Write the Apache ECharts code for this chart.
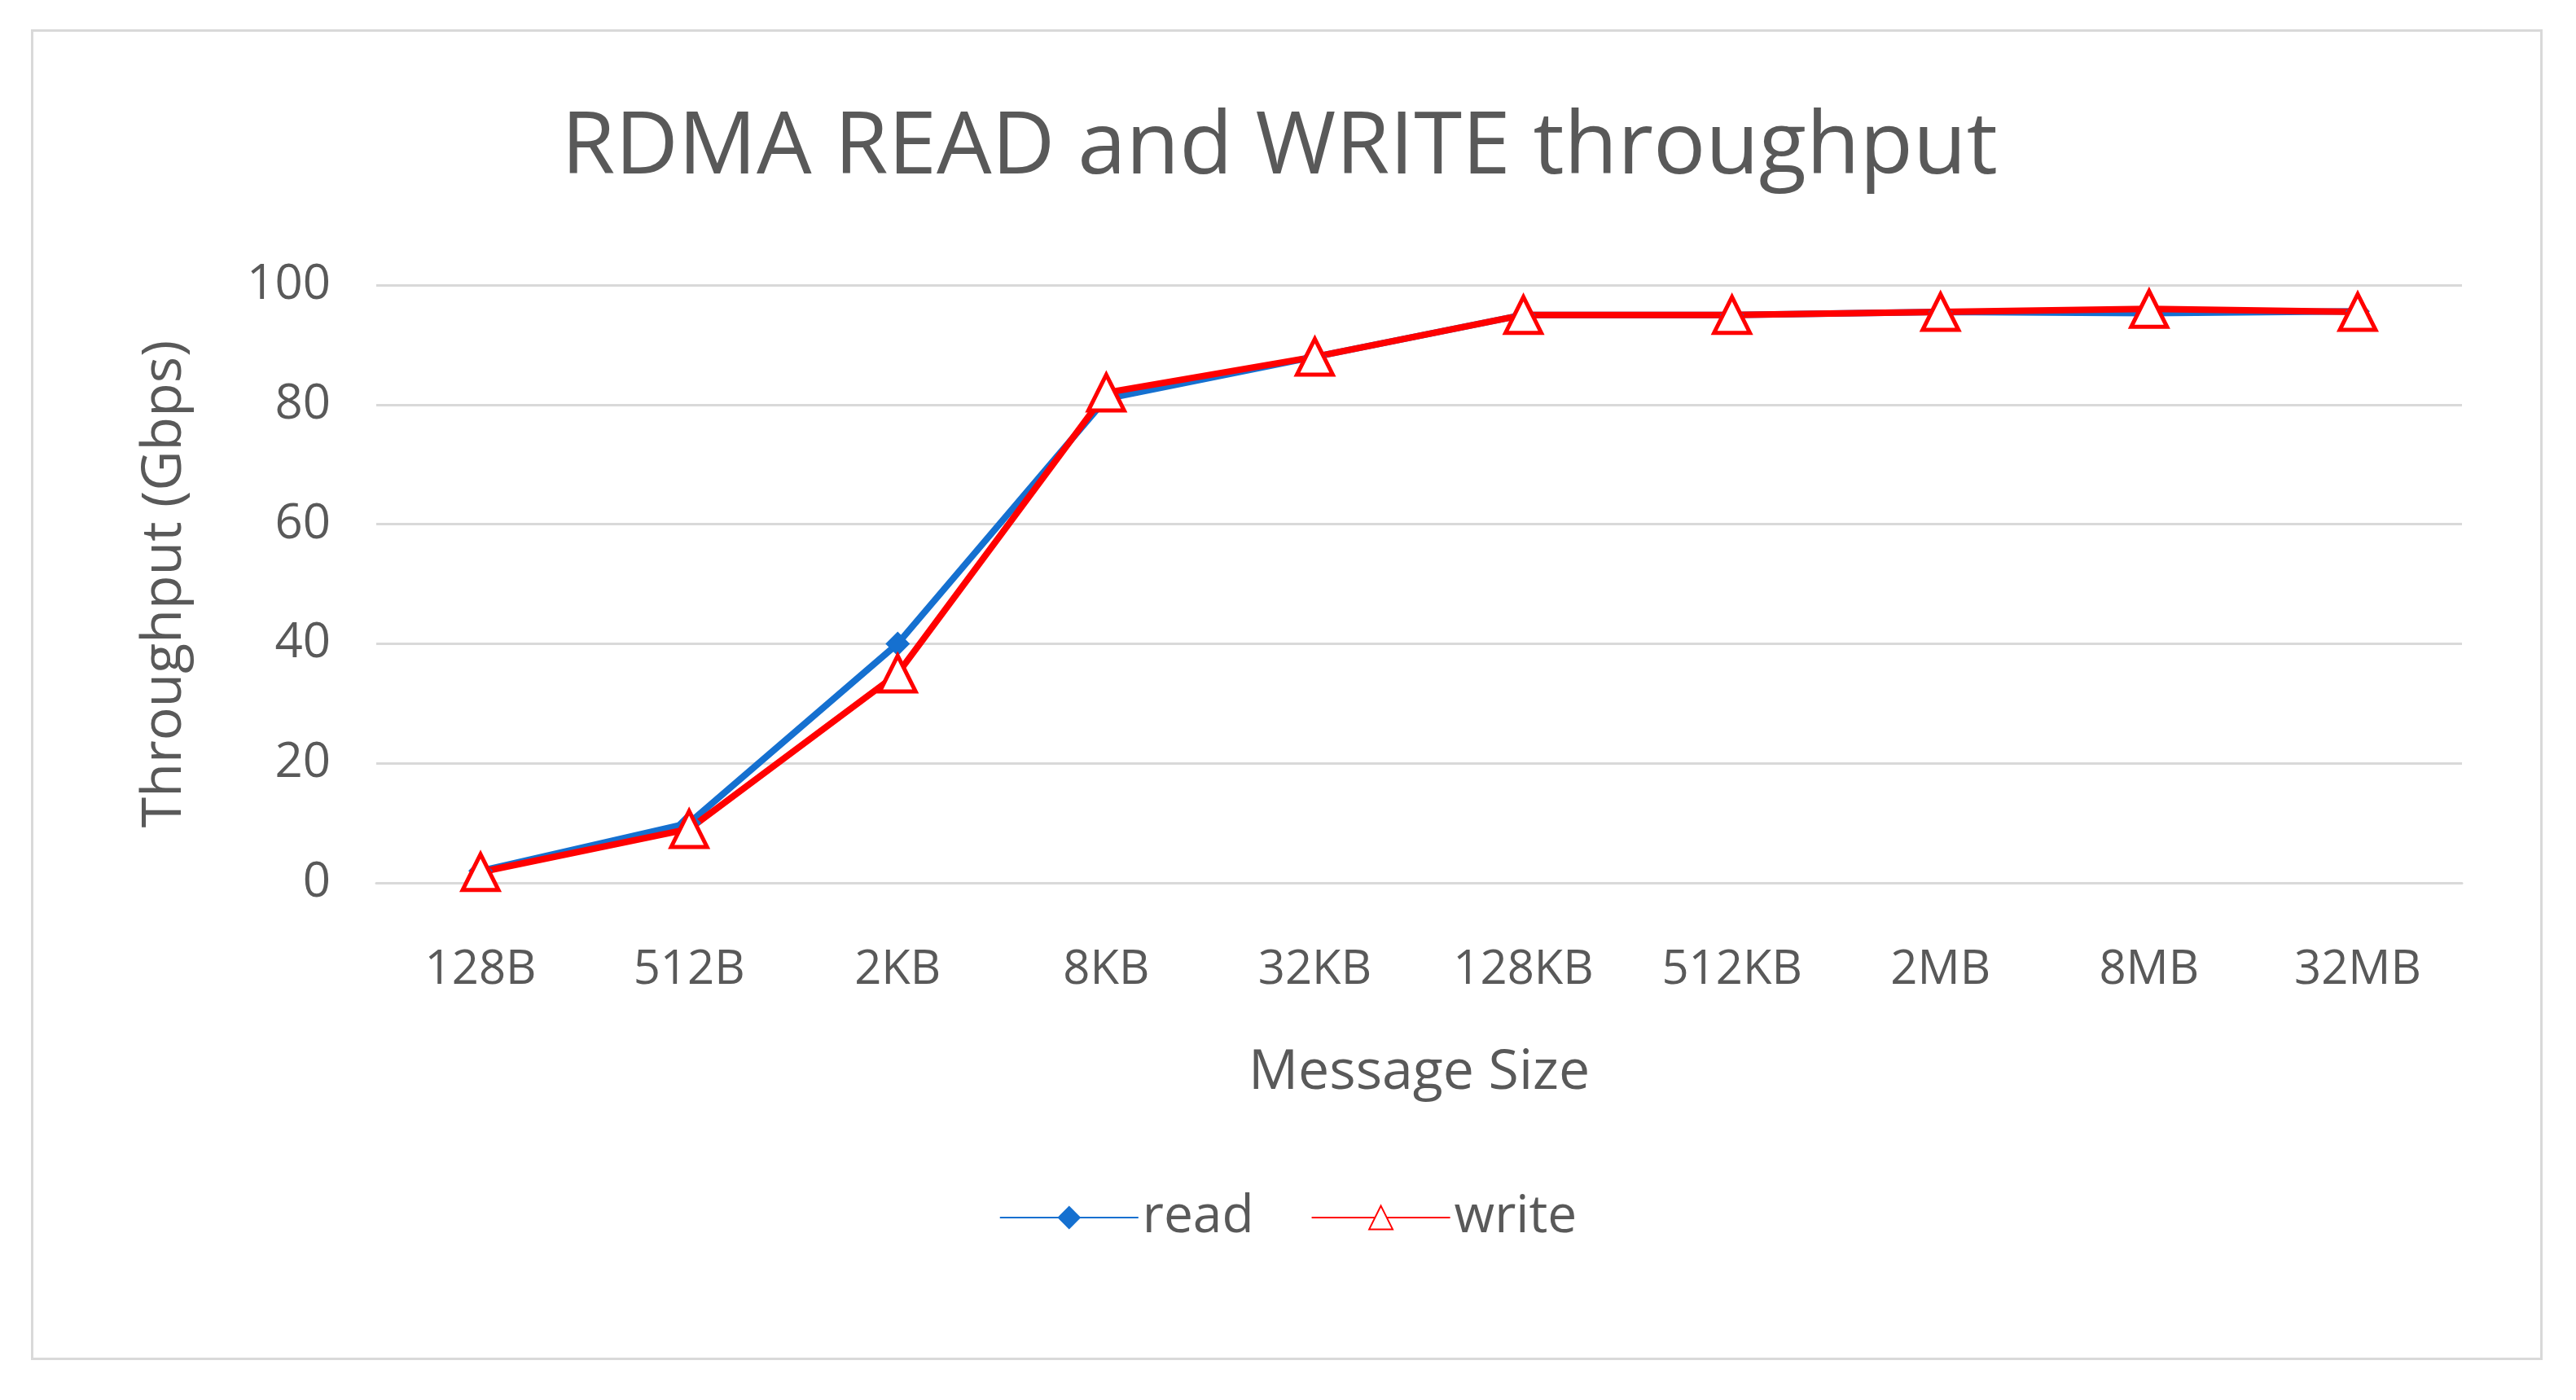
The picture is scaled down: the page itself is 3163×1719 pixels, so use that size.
<!DOCTYPE html>
<html>
<head>
<meta charset="utf-8">
<script src="https://cdn.jsdelivr.net/npm/echarts@6/dist/echarts.min.js"></script>
<style>
  html, body { margin: 0; background: #fff; }
  #frame { position: absolute; left: 38px; top: 36px; width: 3084px; height: 1634px; border: 3px solid #d9d9d9; box-sizing: border-box; }
  #chart { width: 3163px; height: 1719px; }
</style>
</head>
<body>
<div id="frame"></div>
<div id="chart"></div>
<script>
const sizes = ['128B', '512B', '2KB', '8KB', '32KB', '128KB', '512KB', '2MB', '8MB', '32MB'];
const readVals = [2, 10, 40, 81, 88, 95, 95, 95.5, 95.3, 95.6];
const writeVals = [1.8, 9, 35, 82, 88, 95, 95, 95.5, 96, 95.5];

const chart = echarts.init(document.getElementById('chart'));
const font = 'Open Sans';

chart.setOption({
  backgroundColor: 'transparent',
  title: {
    text: 'RDMA READ and WRITE throughput',
    left: 1566, top: 124, textAlign: 'center',
    textStyle: { fontFamily: font, fontSize: 107, fontWeight: 'normal', color: '#595959' }
  },
  legend: {
    top: 1458, left: 'center', itemWidth: 170, itemHeight: 36, itemGap: 70,
    textStyle: { fontFamily: font, fontSize: 64, color: '#595959' },
    data: ['read', 'write']
  },
  grid: { left: 462, right: 140, top: 350, bottom: 635, containLabel: false },
  xAxis: {
    type: 'category', data: sizes, boundaryGap: true,
    name: 'Message Size', nameLocation: 'middle', nameGap: 200,
    nameTextStyle: { fontFamily: font, fontSize: 68, color: '#595959' },
    axisLine: { lineStyle: { color: '#d9d9d9', width: 3 } },
    axisTick: { show: false },
    axisLabel: { fontFamily: font, fontSize: 58, color: '#595959', margin: 78 }
  },
  yAxis: {
    type: 'value', min: 0, max: 100, interval: 20,
    name: 'Throughput (Gbps)', nameLocation: 'middle', nameGap: 225,
    nameTextStyle: { fontFamily: font, fontSize: 68, color: '#595959' },
    axisLine: { show: false }, axisTick: { show: false },
    axisLabel: { fontFamily: font, fontSize: 60, color: '#595959', margin: 56 },
    splitLine: { lineStyle: { color: '#d9d9d9', width: 3 } }
  },
  series: [
    {
      name: 'read', type: 'line', data: readVals,
      symbol: 'diamond', symbolSize: 30,
      lineStyle: { color: '#1570d0', width: 8 },
      itemStyle: { color: '#1570d0' }
    },
    {
      name: 'write', type: 'line', data: writeVals,
      symbol: 'triangle', symbolSize: 44,
      lineStyle: { color: '#ff0000', width: 8 },
      itemStyle: { color: '#ffffff', borderColor: '#ff0000', borderWidth: 5 }
    }
  ]
});
</script>
</body>
</html>
